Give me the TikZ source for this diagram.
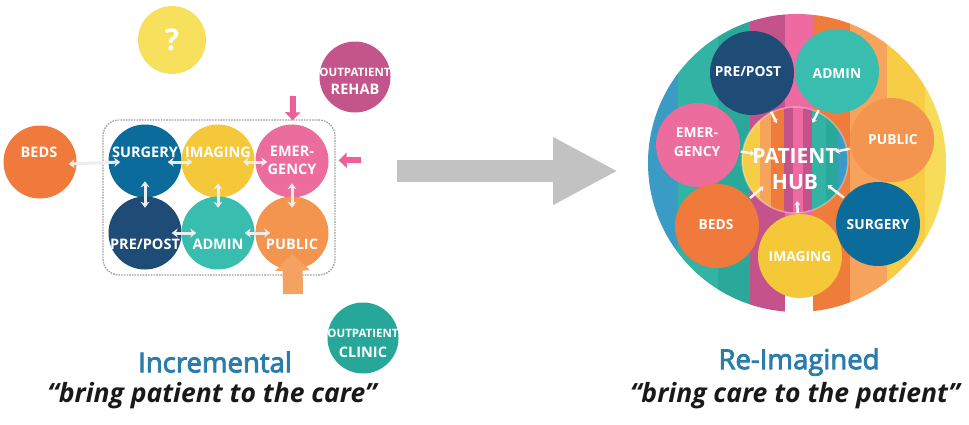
\documentclass[tikz,border=0pt]{standalone}
\usepackage{fontspec}
\setmainfont{Open Sans}
\newfontfamily\titlefont[FakeBold=3]{Open Sans}
\usetikzlibrary{arrows.meta}
\definecolor{cSurg}{HTML}{0B6C9C}
\definecolor{cImg}{HTML}{F5C83A}
\definecolor{cEmer}{HTML}{EC6C9D}
\definecolor{cPre}{HTML}{1F4B77}
\definecolor{cAdm}{HTML}{38BDAF}
\definecolor{cPub}{HTML}{F4954F}
\definecolor{cBeds}{HTML}{EF7A3B}
\definecolor{cReh}{HTML}{C4558B}
\definecolor{cCli}{HTML}{27A79A}
\definecolor{cQ}{HTML}{F6E05C}
\definecolor{cTitle}{HTML}{2A7CAD}
\definecolor{cGray}{HTML}{C2C2C2}
\definecolor{cPink}{HTML}{EC5F98}
\definecolor{cOrA}{HTML}{F4A262}
\definecolor{sBlue}{HTML}{3A9CC4}
\definecolor{sTeal}{HTML}{32B3A3}
\definecolor{sTealD}{HTML}{2AA89A}
\definecolor{sMag}{HTML}{C4538C}
\definecolor{sPink}{HTML}{EE6AA0}
\definecolor{sOr}{HTML}{F07C3C}
\definecolor{sLOr}{HTML}{F6A35C}
\definecolor{sYel}{HTML}{F6CD45}
\definecolor{sLYel}{HTML}{F7DC5A}
\tikzset{
  circ/.style={circle, inner sep=0pt, minimum size=#1},
  circ/.default=73pt,
  lbl/.style={font=\bfseries\fontsize{14.5}{14.5}\selectfont, text=white, inner sep=0pt, text height=10.4pt, text depth=0pt},
  rlbl/.style={font=\bfseries\fontsize{13.8}{13.8}\selectfont, text=white, inner sep=0pt, text height=9.9pt, text depth=0pt},
  slbl/.style={font=\bfseries\fontsize{11.5}{11.5}\selectfont, text=white, inner sep=0pt, text height=8.2pt, text depth=0pt},
  dbl/.style={draw=white!86!gray, line width=3pt, {Stealth[length=6pt,width=9pt]}-{Stealth[length=6pt,width=9pt]}},
  pinkarr/.style={draw=cPink, line width=6pt, -{Triangle[length=8pt,width=15pt]}},
  hubarr/.style={draw=white!92!gray, line width=2.5pt, -{Stealth[length=4pt,width=6pt]}, shorten <=1pt, shorten >=-12pt},
  title/.style={font=\titlefont\fontsize{27.5}{27.5}\selectfont, text=cTitle, inner sep=0pt},
  quote/.style={font=\bfseries\itshape\fontsize{26.5}{26.5}\selectfont, text=black!90, inner sep=0pt}
}
\begin{document}
\begin{tikzpicture}[x=1pt,y=-1pt]
\useasboundingbox[fill=white] (0,0) rectangle (969,424);
% ---------------- left: incremental ----------------
\node[circ=68pt, fill=cQ] (q) at (172,40) {};
\node[font=\bfseries\fontsize{30}{30}\selectfont, text=white, inner sep=0pt] (qt) at (172,40) {?};
\node[circ=71pt, fill=cReh] (reh) at (355,77) {};
\node[slbl] (reht1) at (355,72) {OUTPATIENT};
\node[lbl] (reht2) at (355,89) {REHAB};
\node[circ=71pt, fill=cCli] (cli) at (363,338) {};
\node[slbl] (clit1) at (363,333) {OUTPATIENT};
\node[lbl] (clit2) at (363,352) {CLINIC};

\node[draw=gray!75, line width=1.3pt, dash pattern=on 1.6pt off 1.1pt, rounded corners=16pt,
      minimum width=232pt, minimum height=155pt, inner sep=0pt] (frame) at (219,197.5) {};

\node[circ, fill=cBeds] (beds) at (40,162) {};
\node[circ, fill=cSurg] (surg) at (145,161) {};
\node[circ, fill=cImg] (img) at (218,161) {};
\node[circ, fill=cEmer] (emer) at (292,161) {};
\node[circ, fill=cPre] (pre) at (145,233) {};
\node[circ, fill=cAdm] (adm) at (218,233) {};
\node[circ, fill=cPub] (pub) at (292,233) {};

\node[lbl] (bedst) at (39,152) {BEDS};
\node[lbl] (surgt) at (145,152) {SURGERY};
\node[lbl] (imgt) at (218,152) {IMAGING};
\node[lbl] (emert1) at (292,151) {EMER-};
\node[lbl] (emert2) at (292,169) {GENCY};
\node[lbl] (pret) at (145,244) {PRE/POST};
\node[lbl] (admt) at (218,244) {ADMIN};
\node[lbl] (pubt) at (292,244) {PUBLIC};

\draw[dbl] ([xshift=-8pt,yshift=-2pt]beds.east) -- ([xshift=12pt,yshift=-1pt]surg.west);
\draw[dbl] ([xshift=-14pt,yshift=-1pt]surg.east) -- ([xshift=11pt,yshift=-1pt]img.west);
\draw[dbl] ([xshift=-12pt,yshift=-1pt]img.east) -- ([xshift=12pt,yshift=-1pt]emer.west);
\draw[dbl] ([yshift=-10pt]surg.south) -- ([yshift=15pt]pre.north);
\draw[dbl] ([yshift=-10pt]img.south) -- ([yshift=13pt]adm.north);
\draw[dbl] ([yshift=-10pt]emer.south) -- ([yshift=13pt]pub.north);
\draw[dbl] ([xshift=-10pt]pre.east) -- ([xshift=15pt]adm.west);
\draw[dbl] ([xshift=-10pt]adm.east) -- ([xshift=15pt]pub.west);

\coordinate (ptop) at (293,96);
\coordinate (pright) at (361,160);
\coordinate (obot) at (293,294);
\draw[pinkarr, shorten >=4pt] (ptop) -- (emer);
\draw[pinkarr, shorten >=10pt] (pright) -- (emer);
\draw[draw=cOrA, line width=20pt, -{Triangle[length=17pt,width=34pt]}, shorten >=-16pt] (obot) -- (pub);

\node[title] (inc) at (215,362) {Incremental};
\node[quote, anchor=base] (incq) at (212,402) {“bring patient to the care”};

% ---------------- middle arrow ----------------
\coordinate (ga) at (397,171);
\coordinate (gb) at (618,171);
\draw[draw=cGray, line width=22pt, -{Triangle[length=65pt,width=63pt]}] (ga) -- (gb);

% ---------------- right: re-imagined ----------------
\begin{scope}
  \clip (797,163) circle (149pt);
  \fill[sBlue] (640,0) rectangle (678,330);
  \fill[sTeal] (678,0) rectangle (718,330);
  \fill[sTealD] (718,0) rectangle (750,330);
  \fill[sMag] (750,0) rectangle (785,330);
  \fill[sPink] (785,0) rectangle (813,290);
  \fill[sOr] (813,0) rectangle (850,330);
  \fill[sLOr] (850,0) rectangle (887,330);
  \fill[sYel] (887,0) rectangle (925,330);
  \fill[sLYel] (925,0) rectangle (950,330);
\end{scope}
\node[circ=106pt] (hub) at (795,160) {};
\begin{scope}
  \clip (795,160) circle (53pt);
  \fill[sYel] (740,100) rectangle (760,220);
  \fill[sLOr] (760,100) rectangle (771,220);
  \fill[sOr] (771,100) rectangle (784,220);
  \fill[sMag] (784,100) rectangle (793,220);
  \fill[sPink] (793,100) rectangle (803,220);
  \fill[sMag] (803,100) rectangle (812,220);
  \fill[sTeal] (812,100) rectangle (826,220);
  \fill[sTealD] (826,100) rectangle (837,220);
  \fill[sBlue] (837,100) rectangle (850,220);
\end{scope}
\draw[white, opacity=0.35, line width=1.5pt] (hub.center) circle (53pt);
\node[font=\bfseries\fontsize{21}{26}\selectfont, text=white, align=center, inner sep=0pt] (hubt) at (795,169) {PATIENT\\HUB};

\node[circ=84pt, fill=cPre] (rpre) at (752,73) {};
\node[circ=84pt, fill=cAdm] (radm) at (837,71) {};
\node[circ=84pt, fill=cEmer] (remer) at (698,145) {};
\node[circ=84pt, fill=cPub] (rpub) at (892,140) {};
\node[circ=84pt, fill=cBeds] (rbeds) at (717,226) {};
\node[circ=84pt, fill=cImg] (rimg) at (800,256) {};
\node[circ=84pt, fill=cSurg] (rsurg) at (878,224) {};

\node[rlbl] (rpret) at (748,72) {PRE/POST};
\node[rlbl] (radmt) at (837,74) {ADMIN};
\node[rlbl] (remert1) at (697,133) {EMER-};
\node[rlbl] (remert2) at (697,152) {GENCY};
\node[rlbl] (rpubt) at (893,140) {PUBLIC};
\node[rlbl] (rbedst) at (716,225) {BEDS};
\node[rlbl] (rimgt) at (800,257) {IMAGING};
\node[rlbl] (rsurgt) at (878,225) {SURGERY};

\foreach \s in {rpre,radm,remer,rpub,rbeds,rimg,rsurg}
  \draw[hubarr] (\s) -- (hub);

\node[title] (reim) at (799,362) {Re-Imagined};
\node[quote, anchor=base] (reimq) at (795,402) {“bring care to the patient”};
\end{tikzpicture}
\end{document}
